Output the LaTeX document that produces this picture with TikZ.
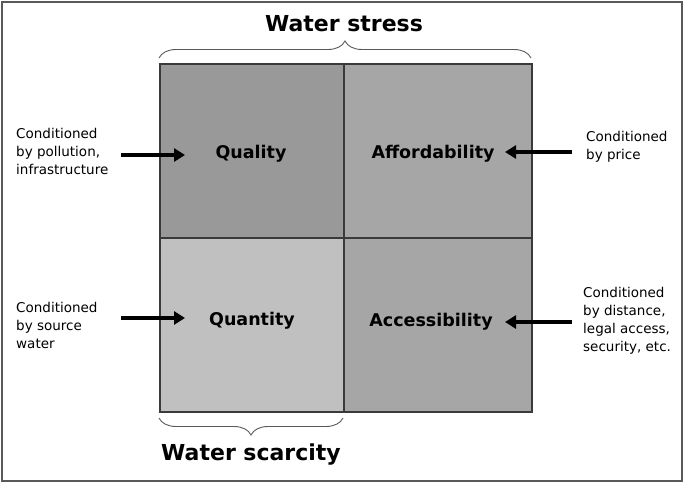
\documentclass[tikz,border=0pt]{standalone}
\usepackage{fontspec}
\setmainfont{DejaVu Sans}
\usetikzlibrary{arrows.meta,decorations.pathreplacing}
\definecolor{cqual}{HTML}{999999}
\definecolor{cmid}{HTML}{A6A6A6}
\definecolor{cquan}{HTML}{C0C0C0}
\definecolor{cline}{HTML}{3A3A3A}
\definecolor{cframe}{HTML}{595959}
\begin{document}
\begin{tikzpicture}[x=1pt,y=-1pt,
  cell/.style={draw=cline,line width=1.7pt,anchor=north west,inner sep=0pt},
  big/.style={font=\bfseries\fontsize{17.5}{21}\selectfont},
  title/.style={font=\bfseries\fontsize{22}{26}\selectfont},
  side/.style={font=\fontsize{13.5}{18}\selectfont,align=left,anchor=west,inner sep=0pt},
  arr/.style={line width=3.8pt,-{Triangle[length=11pt,width=13pt]}},
  brc/.style={draw=cframe,line width=0.9pt,decorate,decoration={brace,amplitude=17pt}}]
\useasboundingbox (0,0) rectangle (685,484);
\draw[cframe,line width=1.3pt] (2,2) rectangle (682,481);
% cells
\node[cell,fill=cqual,minimum width=184,minimum height=174] (c1) at (159,63) {};
\node[cell,fill=cmid,minimum width=188,minimum height=174] (c2) at (343,63) {};
\node[cell,fill=cquan,minimum width=184,minimum height=174] (c3) at (159,237) {};
\node[cell,fill=cmid,minimum width=188,minimum height=174] (c4) at (343,237) {};
% labels
\node[big] (qual) at (251,154) {Quality};
\node[big] (aff) at (433,154) {Affordability};
\node[big] (quan) at (252,321) {Quantity};
\node[big] (acc) at (431,322) {Accessibility};
% titles
\node[title] (stress) at (344,24) {Water stress};
\node[title] (scarc) at (251,455) {Water scarcity};
% braces
\coordinate (b1a) at (159,58);
\coordinate (b1b) at (531,58);
\draw[brc] (b1a) -- (b1b);
\coordinate (b2a) at (343,418);
\coordinate (b2b) at (159,418);
\draw[brc] (b2a) -- (b2b);
% side texts
\node[side] (t1) at (16,151) {Conditioned\\by pollution,\\infrastructure};
\node[side] (t2) at (16,325) {Conditioned\\by source\\water};
\node[side] (t3) at (586,147) {Conditioned\\by price};
\node[side] (t4) at (583,321) {Conditioned\\by distance,\\legal access,\\security, etc.};
% arrows
\coordinate (a1s) at (121,155); \coordinate (a1e) at (185,155);
\coordinate (a2s) at (121,318); \coordinate (a2e) at (185,318);
\coordinate (a3s) at (572,152); \coordinate (a3e) at (505,152);
\coordinate (a4s) at (572,322); \coordinate (a4e) at (505,322);
\draw[arr] (a1s) -- (a1e);
\draw[arr] (a2s) -- (a2e);
\draw[arr] (a3s) -- (a3e);
\draw[arr] (a4s) -- (a4e);
\end{tikzpicture}
\end{document}
